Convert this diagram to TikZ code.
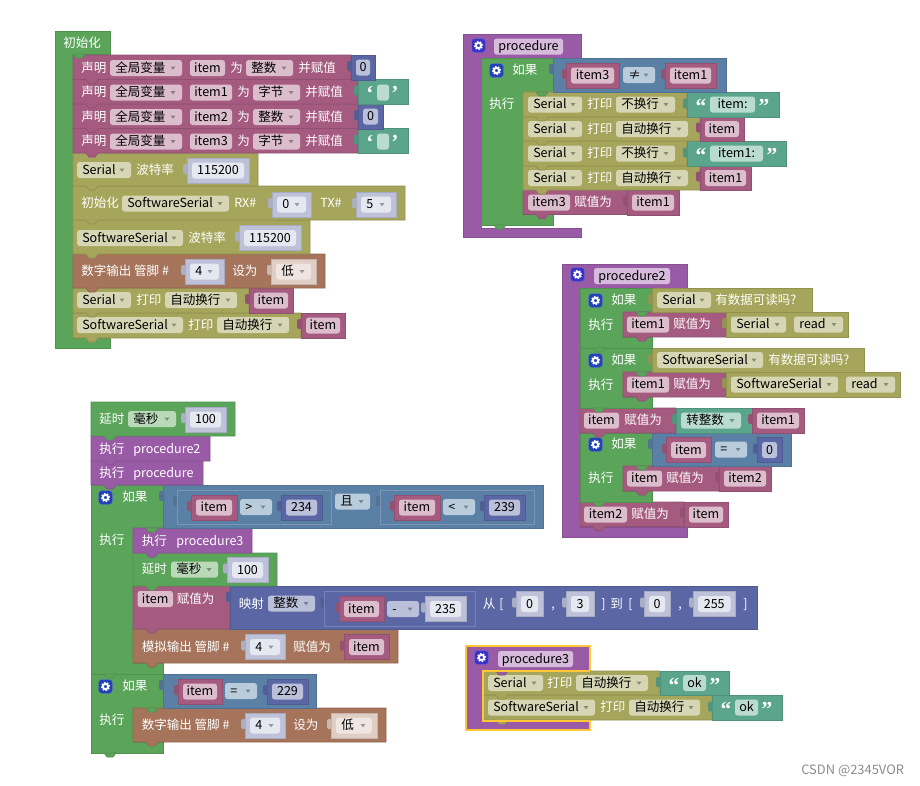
\documentclass[tikz,border=0pt]{standalone}
\usepackage{fontspec}
\setmainfont{Noto Sans CJK SC}
\newfontfamily\quotefont{Liberation Serif}
\definecolor{cgreen}{HTML}{5BA55B}
\definecolor{cpurple}{HTML}{995BA5}
\definecolor{cmaroon}{HTML}{A55B80}
\definecolor{colive}{HTML}{A5A55B}
\definecolor{cblue}{HTML}{5B80A5}
\definecolor{cindigo}{HTML}{5B67A5}
\definecolor{cteal}{HTML}{5BA58C}
\definecolor{cbrown}{HTML}{A5745B}
\definecolor{fgreen}{HTML}{B9D9B9}
\definecolor{fpurple}{HTML}{D7BBDC}
\definecolor{fmaroon}{HTML}{DBBDCC}
\definecolor{folive}{HTML}{D6D6B5}
\definecolor{fblue}{HTML}{B9CCDC}
\definecolor{findigo}{HTML}{BBC0DA}
\definecolor{fteal}{HTML}{B9DBD0}
\definecolor{lplate}{HTML}{BEC2D9}
\definecolor{lfield}{HTML}{E6E8F1}
\definecolor{bplate}{HTML}{E0CDC3}
\definecolor{bfield}{HTML}{F0E6E1}
\definecolor{cselect}{HTML}{FFC737}
\definecolor{gproc}{HTML}{3A33C8}
\definecolor{gif}{HTML}{2143B5}
\tikzset{
  blkshape/.style={fill=#1, draw=#1!88!black, line width=.5pt},
  labtxt/.style={anchor=west, inner sep=0pt, text=white, font=\fontsize{9.4}{11}\selectfont, text height=8.2pt, text depth=1.5pt},
  fldtxt/.style={anchor=center, inner sep=0pt, text=black, font=\fontsize{9.4}{11}\selectfont, text height=8.2pt, text depth=1.5pt},
  drptxt/.style={anchor=west, inner sep=0pt, text=black, font=\fontsize{9.4}{11}\selectfont, text height=8.2pt, text depth=1.5pt},
  qttxt/.style={anchor=center, inner sep=0pt, text=white, font=\quotefont\bfseries\fontsize{16}{16}\selectfont, text height=14pt, text depth=0pt},
  inbox/.style={draw=#1!82!white, line width=.6pt}
}
\newcount\tno
\newcommand{\lab}[3]{\global\advance\tno by 1 \node[labtxt] (t\the\tno) at (#1,#2) {#3};}
\newcommand{\qt}[3]{\global\advance\tno by 1 \node[qttxt] (t\the\tno) at (#1,#2) {#3};}
\newcommand{\tabb}[3]{\path[blkshape=#1] ({#2+13},#3) -- ({#2+16},{#3+4}) -- ({#2+22},{#3+4}) -- ({#2+25},#3) -- cycle;}
\newcommand{\blk}[5]{\path[blkshape=#1] (#2,#3) -- (#4,#3) -- (#4,#5) -- ({#2+25},#5) -- ({#2+22},{#5+4}) -- ({#2+16},{#5+4}) -- ({#2+13},#5) -- (#2,#5) -- cycle;}
\newcommand{\cshape}[8]{\path[blkshape=#1] (#2,#3) -- (#4,#3) -- (#4,#6) -- (#5,#6) -- (#5,#7) -- (#4,#7) -- (#4,#8) -- (#2,#8) -- cycle;}
\newcommand{\vplate}[5]{\path[blkshape=#1] (#2,{#3}) rectangle (#4,{#5});
  \fill[#1!90!black, rounded corners=1.5pt] ({#2-4},{#3+6}) rectangle ({#2+1},{#3+16});}
\newcommand{\fld}[5]{\fill[#1, rounded corners=2pt] ({#2},{#4-8}) rectangle ({#3},{#4+8});
  \global\advance\tno by 1 \node[fldtxt] (t\the\tno) at ({(#2+#3)/2},#4) {#5};}
\newcommand{\drop}[5]{\fill[#1, rounded corners=2pt] ({#2},{#4-8}) rectangle ({#3},{#4+8});
  \global\advance\tno by 1 \node[drptxt] (t\the\tno) at ({#2+5},#4) {#5};
  \fill[#1!65!black] ({#3-11.5},{#4-1.5}) -- ({#3-6.5},{#4-1.5}) -- ({#3-9},{#4+1.8}) -- cycle;}
\newcommand{\vblk}[6]{\vplate{#1}{#3}{#5-12.5}{#4}{#5+12.5}\fld{#2}{#3+5}{#4-5}{#5}{#6}}
\newcommand{\nmb}[4]{\vblk{lplate}{lfield}{#1}{#2}{#3}{#4}}
\newcommand{\itm}[4]{\vblk{cmaroon}{fmaroon}{#1}{#2}{#3}{#4}}
\newcommand{\idg}[4]{\vblk{cindigo}{findigo}{#1}{#2}{#3}{#4}}
\newcommand{\pinp}[6]{\vplate{#1}{#3}{#5-12.5}{#4}{#5+12.5}\drop{#2}{#3+5}{#4-5}{#5}{#6}}
\newcommand{\strv}[6]{\vplate{cteal}{#1}{#3}{#2}{#3+24.5}
  \qt{{#1+14}}{{#3+12}}{“}\fld{fteal}{#4}{#5}{#3+12}{#6}\qt{{#5+9}}{{#3+12}}{”}}
\newcommand{\chrv}[2]{\vplate{cteal}{#1}{#2}{#1+50}{#2+24.5}
  \qt{{#1+12}}{{#2+12}}{‘}\fill[fteal, rounded corners=2pt] ({#1+19},{#2+5}) rectangle ({#1+31},{#2+21});\qt{{#1+37}}{{#2+12}}{’}}
\newcommand{\gear}[3]{\fill[#1!80!white, rounded corners=2.5pt] ({#2-.6},{#3-.6}) rectangle ({#2+13.6},{#3+13.6});
  \fill[#1, rounded corners=2pt] (#2,#3) rectangle ({#2+13},{#3+13});
  \draw[white, line width=1.4pt] ({#2+6.5},{#3+6.5}) circle[radius=2pt];
  \draw[white, line width=1pt, dash pattern=on 1.2pt off 1.1pt] ({#2+6.5},{#3+6.5}) circle[radius=3pt];}
\newcommand{\decl}[5]{\blk{cmaroon}{73}{#1}{#2}{#1+24.5}
  \lab{81}{{#1+13}}{声明}\drop{fmaroon}{110}{182}{#1+13}{全局变量}
  \fld{fmaroon}{190}{#3}{#1+13}{#4}\lab{{#3+5}}{{#1+13}}{为}
  \drop{fmaroon}{#3+21}{#3+68}{#1+13}{#5}\lab{{#3+73}}{{#1+13}}{并赋值}}
\begin{document}
\begin{tikzpicture}[x=0.75pt,y=-0.75pt]
\fill[white] (0,0) rectangle (920,785);
\useasboundingbox (0,0) rectangle (920,785);

% init
\cshape{cgreen}{55}{31}{110}{73}{54}{338}{348}
\lab{63}{43}{初始化}
\blk{colive}{73}{313}{301}{338}
\drop{folive}{77}{183}{325}{SoftwareSerial}\lab{188}{325}{打印}\drop{folive}{217}{289}{325}{自动换行}\itm{301}{345}{325.5}{item}
\blk{colive}{73}{288}{249}{313}
\drop{folive}{77}{131}{300}{Serial}\lab{136}{300}{打印}\drop{folive}{165}{237}{300}{自动换行}\itm{249}{293}{300.5}{item}
\blk{cbrown}{73}{254}{325}{288}
\lab{81}{271}{数字输出 管脚 \#}\pinp{lplate}{lfield}{185}{224}{271.5}{4}\lab{232}{271}{设为}\pinp{bplate}{bfield}{271}{316}{271.5}{低}
\blk{colive}{73}{220}{310}{254}
\drop{folive}{77}{183}{238}{SoftwareSerial}\lab{188}{238}{波特率}\nmb{239}{301}{238}{115200}
\blk{colive}{73}{186}{405}{220}
\lab{81}{203.5}{初始化}\drop{folive}{122}{229}{203.5}{SoftwareSerial}\lab{234}{203.5}{RX\#}\pinp{lplate}{lfield}{272}{311}{204.5}{0}\lab{320}{203.5}{TX\#}\pinp{lplate}{lfield}{356}{396}{204.5}{5}
\blk{colive}{73}{153}{258}{186}
\drop{folive}{77}{131}{170}{Serial}\lab{136}{170}{波特率}\nmb{187}{249}{170.5}{115200}
\decl{128.5}{358}{232}{item3}{字节}\chrv{358}{128.5}
\decl{104}{358}{232}{item2}{整数}\idg{358}{383}{116.5}{0}
\decl{79.5}{358}{232}{item1}{字节}\chrv{358}{79.5}
\decl{55}{351}{225}{item}{整数}\idg{351}{375}{67.5}{0}
\tabb{cgreen}{60}{54}

% procedure
\cshape{cpurple}{463}{34}{581}{481}{58}{228}{237}
\gear{gproc}{472}{39}\fld{fpurple}{494}{563}{46.5}{procedure}
\cshape{cgreen}{481}{58}{553}{523}{92}{214}{225}
\tabb{cgreen}{481}{225}
\gear{gif}{490}{64}\lab{512}{70.5}{如果}\lab{489}{104}{执行}
\blk{cmaroon}{523}{190}{627}{214.5}
\fld{fmaroon}{528}{570}{202.5}{item3}\lab{574}{202.5}{赋值为}\itm{627}{679}{202.5}{item1}
\blk{colive}{523}{166}{700}{190}
\drop{folive}{528}{582}{178}{Serial}\lab{587}{178}{打印}\drop{folive}{616}{688}{178}{自动换行}\itm{700}{751}{178}{item1}
\blk{colive}{523}{141}{687}{166}
\drop{folive}{528}{582}{153.5}{Serial}\lab{587}{153.5}{打印}\drop{folive}{616}{675}{153.5}{不换行}\strv{687}{786}{141.5}{710}{763}{item1:}
\blk{colive}{523}{117}{700}{141}
\drop{folive}{528}{582}{129}{Serial}\lab{587}{129}{打印}\drop{folive}{616}{688}{129}{自动换行}\itm{700}{744}{129}{item}
\blk{colive}{523}{92}{687}{117}
\drop{folive}{528}{582}{104.5}{Serial}\lab{587}{104.5}{打印}\drop{folive}{616}{675}{104.5}{不换行}\strv{687}{779}{92.5}{710}{755}{item:}
\vplate{cblue}{553}{58}{726}{92}
\itm{566}{619}{75.5}{item3}\drop{fblue}{623}{655}{75}{≠}\itm{665}{716}{75.5}{item1}
\tabb{cgreen}{523}{92}

% procedure2
\cshape{cpurple}{562}{264}{687}{580}{288}{527}{537}
\gear{gproc}{571}{268}\fld{fpurple}{594}{670}{276}{procedure2}
\blk{cmaroon}{580}{502}{684}{526.5}
\fld{fmaroon}{584}{627}{514.5}{item2}\lab{631}{514.5}{赋值为}\itm{684}{728}{514.5}{item}
\cshape{cgreen}{580}{433}{652}{623}{466}{491}{502}
\tabb{cgreen}{580}{502}
\gear{gif}{589}{438}\lab{611}{444}{如果}\lab{588}{478.5}{执行}
\blk{cmaroon}{623}{466}{719}{491}
\fld{fmaroon}{627}{662}{478.5}{item}\lab{666}{478.5}{赋值为}\itm{719}{771}{478.5}{item2}
\vplate{cblue}{652}{433}{791}{466}
\itm{666}{711}{450}{item}\drop{fblue}{715}{747}{449.5}{=}\idg{757}{782}{450}{0}
\tabb{cgreen}{623}{466}
\blk{cmaroon}{580}{408}{676}{433}
\fld{fmaroon}{584}{619}{420.5}{item}\lab{624}{420.5}{赋值为}\vplate{cteal}{676}{408}{752}{433}\drop{fteal}{681}{741}{420.5}{转整数}\itm{752}{804}{420.5}{item1}
\cshape{cgreen}{580}{348}{652}{623}{372}{397}{408}
\tabb{cgreen}{580}{408}
\gear{gif}{589}{354}\lab{611}{360.5}{如果}\lab{588}{385}{执行}
\blk{cmaroon}{623}{372}{726}{397}
\fld{fmaroon}{627}{669}{384.5}{item1}\lab{673}{384.5}{赋值为}\vplate{colive}{726}{372}{900}{397}\drop{folive}{731}{838}{384.5}{SoftwareSerial}\drop{folive}{846}{895}{384.5}{read}
\vplate{colive}{652}{348}{864}{372}
\drop{folive}{657}{763}{360}{SoftwareSerial}\lab{768}{360}{有数据可读吗?}
\tabb{cgreen}{623}{372}
\cshape{cgreen}{580}{288}{652}{623}{312}{337}{348}
\tabb{cgreen}{580}{348}
\gear{gif}{589}{294}\lab{611}{300.5}{如果}\lab{588}{325}{执行}
\blk{cmaroon}{623}{312}{726}{337}
\fld{fmaroon}{627}{669}{324.5}{item1}\lab{673}{324.5}{赋值为}\vplate{colive}{726}{312}{848}{337}\drop{folive}{731}{786}{324.5}{Serial}\drop{folive}{794}{843}{324.5}{read}
\vplate{colive}{652}{288}{812}{312}
\drop{folive}{657}{711}{300}{Serial}\lab{715}{300}{有数据可读吗?}
\tabb{cgreen}{623}{312}

% main loop
\cshape{cgreen}{91}{674}{163}{133}{708}{742}{753}
\tabb{cgreen}{91}{753}
\gear{gif}{99}{680}\lab{122}{686}{如果}\lab{99}{720}{执行}
\blk{cbrown}{133}{708}{386}{742}
\lab{141.5}{725}{数字输出 管脚 \#}\pinp{lplate}{lfield}{245}{285}{725.5}{4}\lab{293}{725}{设为}\pinp{bplate}{bfield}{331}{377}{725.5}{低}
\vplate{cblue}{163}{674}{316}{708}
\itm{178}{222}{691.5}{item}\drop{fblue}{225}{257}{691}{=}\idg{267}{308}{691.5}{229}
\tabb{cgreen}{133}{708}
\cshape{cgreen}{91}{485}{163}{133}{528}{663}{674}
\tabb{cgreen}{91}{674}
\gear{gif}{99}{491}\lab{122}{497.5}{如果}\lab{99}{540}{执行}
\blk{cbrown}{133}{629}{398}{663}
\lab{141.5}{647}{模拟输出 管脚 \#}\pinp{lplate}{lfield}{245}{285}{647}{4}\lab{293}{647}{赋值为}\itm{344}{389}{647}{item}
\blk{cmaroon}{133}{586}{230}{629}
\fld{fmaroon}{137.5}{173}{599}{item}\lab{176.5}{599}{赋值为}
\vplate{cindigo}{230}{586}{757}{629}
\lab{238.5}{604}{映射}\drop{findigo}{268}{315}{603.5}{整数}
\vplate{cindigo}{324.5}{591.5}{475}{626.5}
\path[inbox=cindigo] (324.5,591.5) rectangle (475,626.5);
\itm{339}{384}{609}{item}\drop{findigo}{387}{419}{609}{-}\nmb{425}{466}{609}{235}
\lab{482.6}{604}{从}\lab{499}{604}{[}
\nmb{516}{543}{604}{0}\lab{551}{604}{,}\nmb{566}{594}{604}{3}
\lab{601}{604}{]}\lab{610}{604}{到}\lab{628}{604}{[}
\nmb{644}{670}{604}{0}\lab{678}{604}{,}\nmb{693}{735.5}{604}{255}\lab{743}{604}{]}
\blk{cgreen}{133}{553}{277}{586}
\lab{141.5}{569.5}{延时}\drop{fgreen}{171}{218}{569.5}{毫秒}\nmb{227}{268}{570}{100}
\blk{cpurple}{133}{528}{252}{553}
\lab{141.5}{541}{执行}\lab{176}{541}{procedure3}
\vplate{cblue}{163}{485}{543}{528}
\vplate{cblue}{177}{490}{331}{524}
\path[inbox=cblue] (177,490) rectangle (331,524);
\itm{191}{237}{507.5}{item}\drop{fblue}{240}{272}{507}{>}\idg{281}{322}{507.5}{234}
\drop{fblue}{335}{370}{501.5}{且}
\vplate{cblue}{380}{490}{534}{524}
\path[inbox=cblue] (380,490) rectangle (534,524);
\itm{394}{440}{507.5}{item}\drop{fblue}{443}{475}{507}{<}\idg{484}{525}{507.5}{239}
\tabb{cgreen}{133}{528}
\blk{cpurple}{91}{461}{203}{485}
\lab{99}{473}{执行}\lab{133}{473}{procedure}
\blk{cpurple}{91}{436}{210}{461}
\lab{99}{449}{执行}\lab{133}{449}{procedure2}
\blk{cgreen}{91}{402}{235}{436}
\lab{99}{419}{延时}\drop{fgreen}{128}{176}{419}{毫秒}\nmb{185}{226}{419.5}{100}

% procedure3
\path[blkshape=cpurple, draw=cselect, line width=1.5pt] (466,646) -- (590,646) -- (590,671) -- (483,671) -- (483,721) -- (590,721) -- (590,730) -- (466,730) -- cycle;
\gear{gproc}{475}{651}\fld{fpurple}{498}{573}{659}{procedure3}
\blk{colive}{483}{695}{712}{720}
\drop{folive}{488}{595}{707.5}{SoftwareSerial}\lab{600}{707.5}{打印}\drop{folive}{629}{700}{707.5}{自动换行}\strv{712}{782}{695.5}{735}{758}{ok}
\blk{colive}{483}{671}{660}{695}
\drop{folive}{488}{543}{683}{Serial}\lab{547}{683}{打印}\drop{folive}{576}{648}{683}{自动换行}\strv{660}{729}{671}{683}{706}{ok}
\tabb{cpurple}{483}{671}
\draw[cselect, line width=1.5pt] (590,671) -- (483,671) -- (483,721) -- (590,721);

\global\advance\tno by 1
\node[anchor=west, inner sep=0pt, text=black!45, font=\fontsize{9.7}{11}\selectfont] (t\the\tno) at (801,770.5) {CSDN @2345VOR};
\end{tikzpicture}
\end{document}
